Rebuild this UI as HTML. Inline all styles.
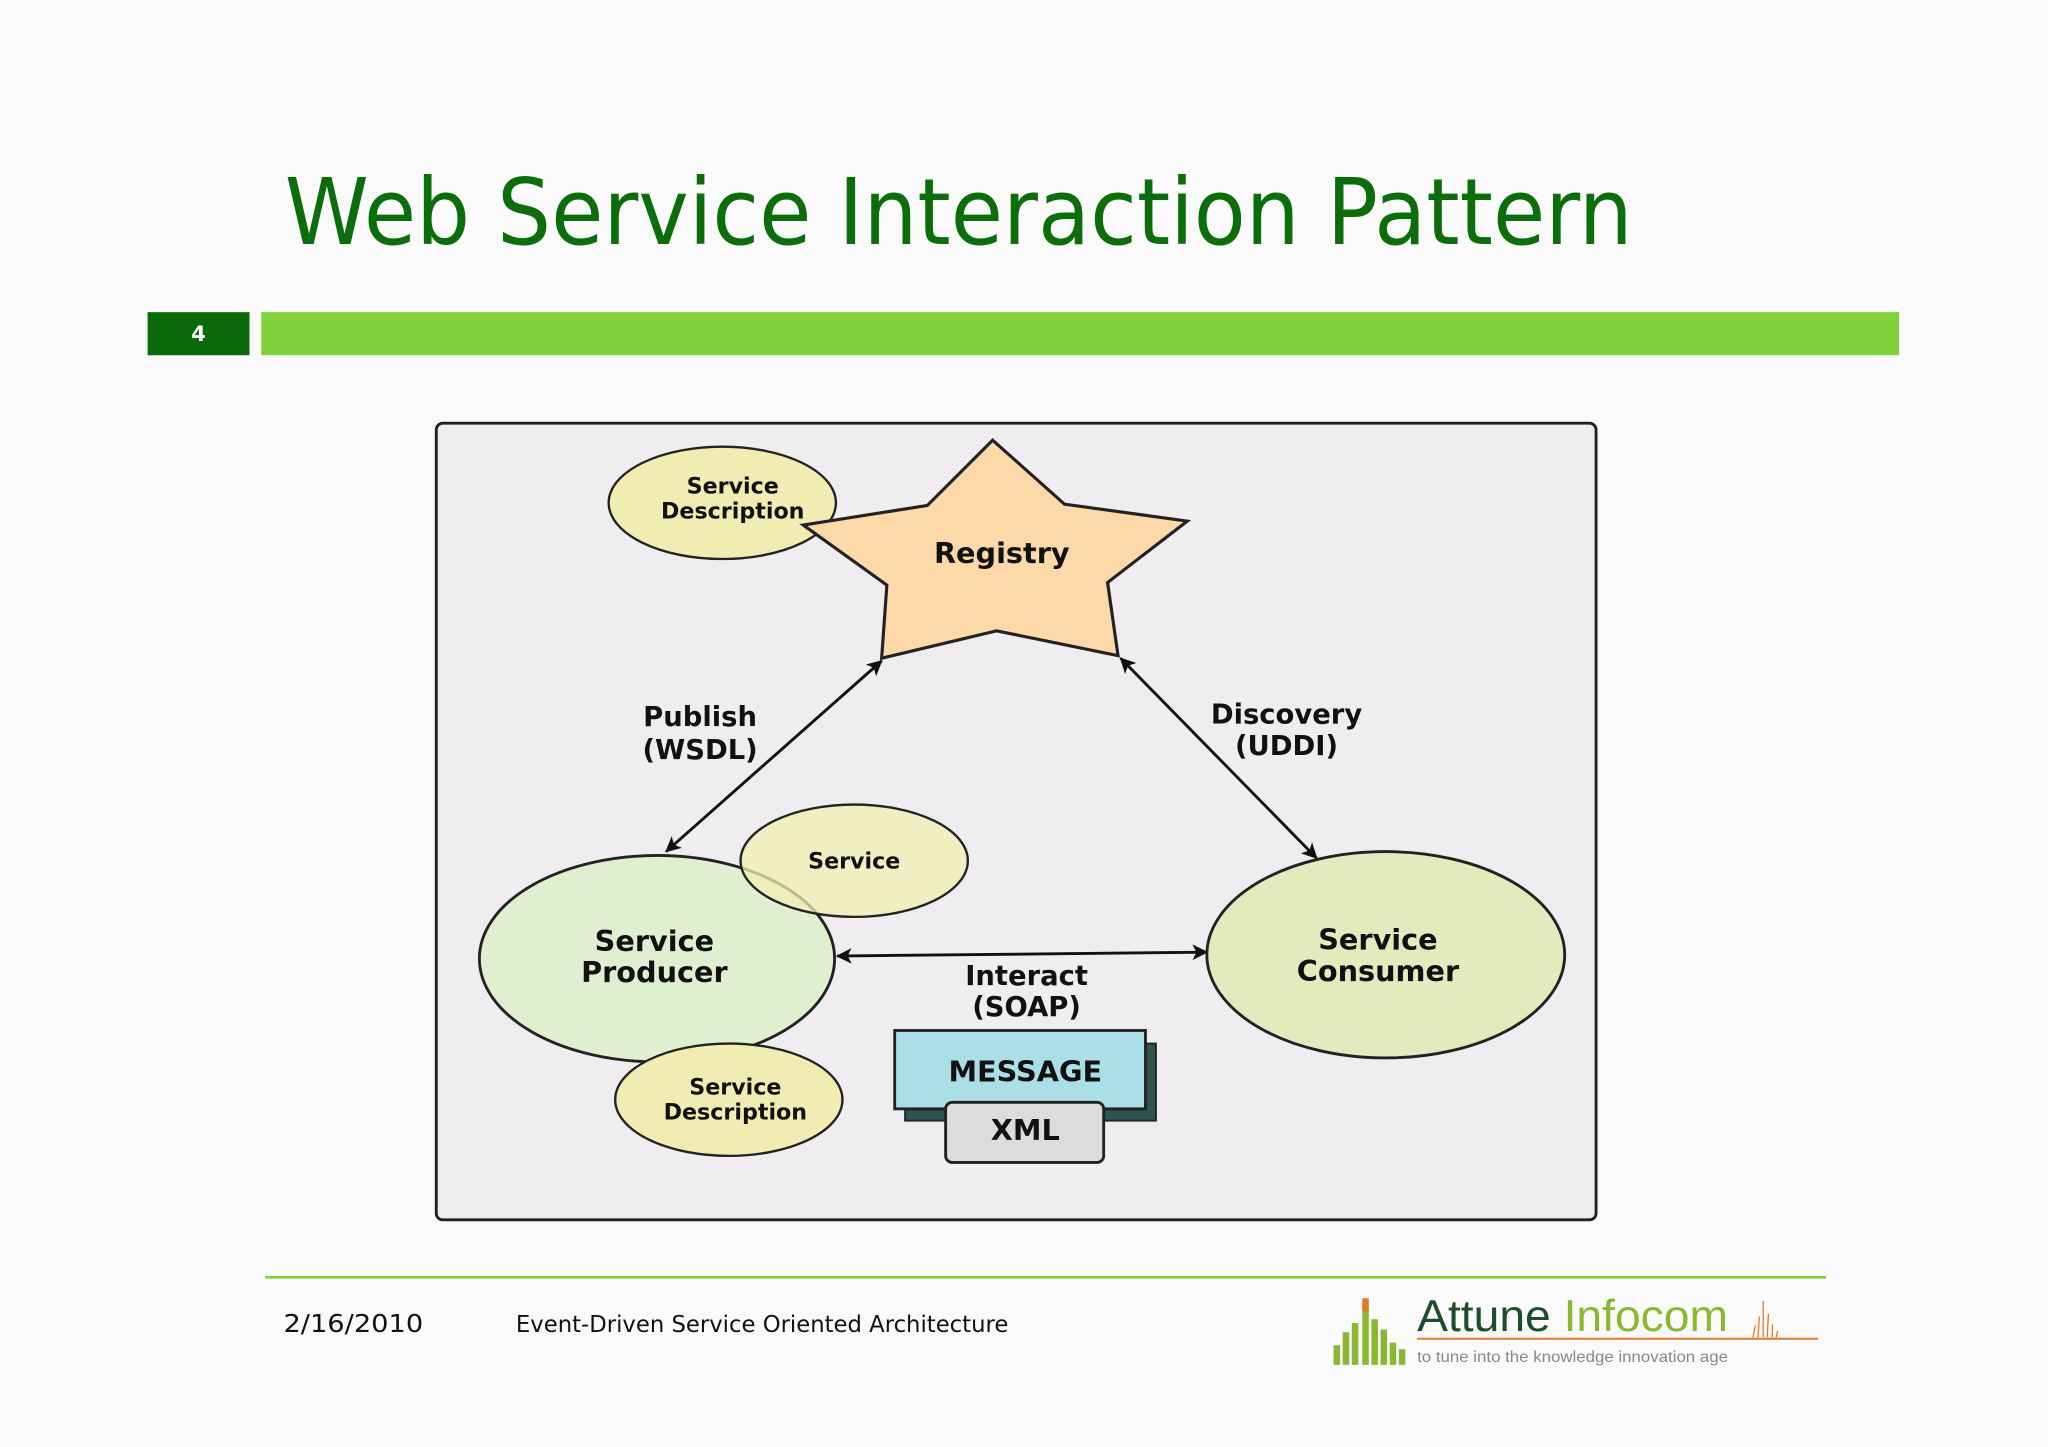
<!DOCTYPE html>
<html><head><meta charset="utf-8"><style>
html,body{margin:0;padding:0;background:#fafafa;}
svg{display:block;}
</style></head><body>
<svg width="2048" height="1447" viewBox="0 0 1568 1107.9" xmlns="http://www.w3.org/2000/svg">
<defs>
<marker id="ah" markerWidth="12" markerHeight="12" refX="11" refY="6" orient="auto-start-reverse" markerUnits="userSpaceOnUse"><path d="M0,0 L12,6 L0,12 L3,6 Z" fill="#111"/></marker>
</defs>
<rect x="0" y="0" width="1568" height="1108" fill="#fafafa"/>
<text x="218" y="187" font-family="'DejaVu Sans','Liberation Sans',sans-serif" font-size="70" fill="#0b6e0b" textLength="1032" lengthAdjust="spacingAndGlyphs">Web Service Interaction Pattern</text>
<rect x="113" y="239" width="78" height="33" fill="#0a6a0a"/>
<text x="152" y="261" font-family="'DejaVu Sans',sans-serif" font-weight="bold" font-size="16" fill="#fff" text-anchor="middle">4</text>
<rect x="200" y="239" width="1254" height="33" fill="#80d13b"/>
<rect x="334" y="324" width="888" height="610" rx="5" fill="#efedf0" stroke="#222" stroke-width="2.2"/>
<g font-family="'DejaVu Sans',sans-serif" font-weight="bold" fill="#111" text-anchor="middle">
<ellipse cx="553" cy="385" rx="87" ry="43" fill="#f1edb2" stroke="#222" stroke-width="1.8"/>
<text x="561" y="378" font-size="17">Service</text>
<text x="561" y="397" font-size="17">Description</text>
<polygon points="760,337 815,386 909,399 848,446 856,502 763,483 675,504 679,448 615,402 710,387" fill="#fdd8a8" stroke="#222" stroke-width="2.4"/>
<text x="767" y="431" font-size="22">Registry</text>
<line x1="510" y1="652" x2="675" y2="506" stroke="#111" stroke-width="2.2" marker-start="url(#ah)" marker-end="url(#ah)"/>
<line x1="858" y1="504" x2="1008" y2="657" stroke="#111" stroke-width="2.2" marker-start="url(#ah)" marker-end="url(#ah)"/>
<line x1="641" y1="732" x2="924" y2="729" stroke="#111" stroke-width="2.2" marker-start="url(#ah)" marker-end="url(#ah)"/>
<text x="536" y="556" font-size="21">Publish</text>
<text x="536" y="581" font-size="21">(WSDL)</text>
<text x="985" y="554" font-size="21">Discovery</text>
<text x="985" y="578" font-size="21">(UDDI)</text>
<ellipse cx="503" cy="734" rx="136" ry="79" fill="#dff0d0" stroke="#222" stroke-width="2.2"/>
<ellipse cx="654" cy="659" rx="87" ry="43" fill="#f1edb2" fill-opacity="0.75" stroke="#222" stroke-width="1.8"/>
<text x="654" y="665" font-size="17">Service</text>
<text x="501" y="728" font-size="22">Service</text>
<text x="501" y="752" font-size="22">Producer</text>
<ellipse cx="558" cy="842" rx="87" ry="43" fill="#f1edb2" stroke="#222" stroke-width="1.8"/>
<text x="563" y="838" font-size="17">Service</text>
<text x="563" y="857" font-size="17">Description</text>
<ellipse cx="1061" cy="731" rx="137" ry="79" fill="#e1ebbd" stroke="#222" stroke-width="2.2"/>
<text x="1055" y="727" font-size="22">Service</text>
<text x="1055" y="751" font-size="22">Consumer</text>
<text x="786" y="754" font-size="21">Interact</text>
<text x="786" y="778" font-size="21">(SOAP)</text>
<rect x="693" y="799" width="192" height="59" fill="#2f5450" stroke="#222" stroke-width="1.5"/>
<rect x="685" y="789" width="192" height="60" fill="#aadfe8" stroke="#222" stroke-width="2.2"/>
<text x="785" y="828" font-size="22">MESSAGE</text>
<rect x="724" y="844" width="121" height="46" rx="5" fill="#dcdcdc" stroke="#222" stroke-width="2.2"/>
<text x="785" y="873" font-size="22">XML</text>
</g>
<line x1="203" y1="978" x2="1398" y2="978" stroke="#80d13b" stroke-width="2"/>
<g font-family="'DejaVu Sans','Liberation Sans',sans-serif" font-size="19" fill="#111">
<text x="217" y="1020" textLength="107" lengthAdjust="spacingAndGlyphs">2/16/2010</text>
<text x="395" y="1020" font-size="18" textLength="377" lengthAdjust="spacingAndGlyphs">Event-Driven Service Oriented Architecture</text>
</g>
<g>
<rect x="1021" y="1030" width="5" height="15" fill="#8ab833"/>
<rect x="1028" y="1020" width="5" height="25" fill="#8ab833"/>
<rect x="1035" y="1013" width="5" height="32" fill="#8ab833"/>
<rect x="1043" y="1000" width="5" height="45" fill="#8ab833"/>
<rect x="1043" y="994" width="5" height="10" fill="#e07b2a"/>
<rect x="1050" y="1010" width="5" height="35" fill="#8ab833"/>
<rect x="1057" y="1018" width="5" height="27" fill="#8ab833"/>
<rect x="1064" y="1028" width="5" height="17" fill="#8ab833"/>
<rect x="1071" y="1033" width="5" height="12" fill="#8ab833"/>
<text x="1085" y="1019" font-family="'Liberation Sans',sans-serif" font-size="34" fill="#1d4d2d" textLength="238" lengthAdjust="spacingAndGlyphs">Attune <tspan fill="#8ab833">Infocom</tspan></text>
<line x1="1085" y1="1025" x2="1392" y2="1025" stroke="#e07b2a" stroke-width="1.5"/>
<path d="M1342,1024 L1344,1015 M1346,1024 L1347,1008 M1350,1024 L1350,996 M1353,1024 L1354,1006 M1357,1024 L1357,1014 M1360,1024 L1361,1019" stroke="#e07b2a" stroke-width="1"/>
<text x="1085" y="1043" font-family="'Liberation Sans',sans-serif" font-size="12" fill="#888" textLength="238" lengthAdjust="spacingAndGlyphs">to tune into the knowledge innovation age</text>
</g>
</svg>
</body></html>
